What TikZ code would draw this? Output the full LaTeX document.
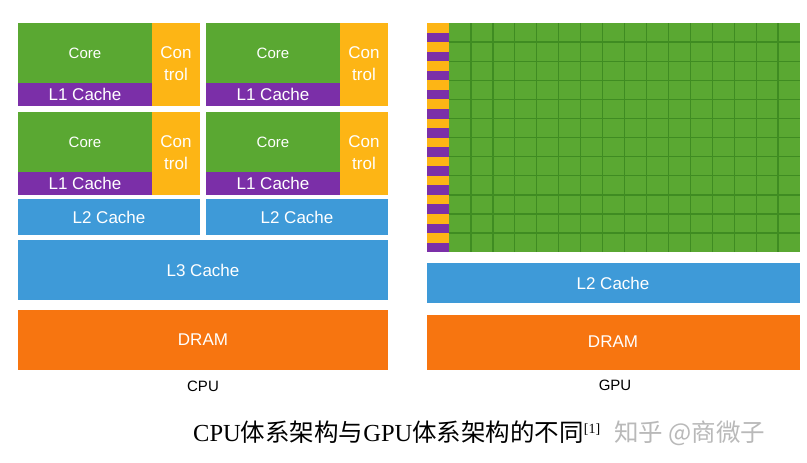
\documentclass[tikz,border=0pt]{standalone}
\usepackage{fontspec}
\setmainfont{Liberation Sans}
\newfontfamily\cjk{Noto Sans CJK SC}
\newfontfamily\serifcap{Liberation Serif}
\definecolor{gr}{HTML}{5AA832}
\definecolor{grl}{HTML}{3F8C22}
\definecolor{og}{HTML}{FDB515}
\definecolor{pu}{HTML}{7B2FA8}
\definecolor{bl}{HTML}{3E9AD8}
\definecolor{dr}{HTML}{F77510}
\begin{document}
\begin{tikzpicture}[x=1pt,y=-1pt,
  blk/.style={draw=none,inner sep=0pt,text=white,font=\fontsize{17}{20}\selectfont},
  lbl/.style={font=\fontsize{15}{18}\selectfont}]
\useasboundingbox (0,0) rectangle (807,463);
\fill[white] (0,0) rectangle (807,463);
\foreach \x/\y/\n in {18/23/a,206/23/b,18/112/c,206/112/d}{
  \fill[gr] (\x,\y) rectangle ++(134,60);
  \node[blk,font=\fontsize{15}{18}\selectfont] (core\n) at (\x+67,\y+30) {Core};
  \fill[pu] (\x,\y+60) rectangle ++(134,23);
  \node[blk] (l1\n) at (\x+67,\y+71.5) {L1 Cache};
  \fill[og] (\x+134,\y) rectangle ++(48,83);
  \node[blk,align=center,font=\fontsize{17}{22}\selectfont] (ctl\n) at (\x+158,\y+41) {Con\\trol};
}
\fill[bl] (18,199) rectangle (200,235); \node[blk] (l2a) at (109,217) {L2 Cache};
\fill[bl] (206,199) rectangle (388,235); \node[blk] (l2b) at (297,217) {L2 Cache};
\fill[bl] (18,240) rectangle (388,300); \node[blk] (l3) at (203,270) {L3 Cache};
\fill[dr] (18,310) rectangle (388,370); \node[blk] (dram1) at (203,340) {DRAM};
\node[lbl] (cpu) at (203,386) {CPU};
% GPU
\foreach \r in {0,...,11}{
  \fill[og] (427,23+\r*19.1) rectangle ++(22,9.55);
  \fill[pu] (427,32.55+\r*19.1) rectangle ++(22,9.55);
}
\fill[gr] (449,23) rectangle (800,252.2);
\foreach \c in {1,...,15} \draw[grl,line width=1.3pt] (449+\c*21.94,23) -- ++(0,229.2);
\foreach \r in {1,...,11} \draw[grl,line width=1.3pt] (449,23+\r*19.1) -- ++(351,0);
\fill[bl] (427,263) rectangle (800,303); \node[blk] (l2g) at (613,283) {L2 Cache};
\fill[dr] (427,315) rectangle (800,370); \node[blk] (dram2) at (613,342) {DRAM};
\node[lbl] (gpu) at (615,385) {GPU};
\node[anchor=west,inner sep=0pt,font=\fontsize{24.5}{28}\selectfont] (cap) at (193,433)
 {\serifcap CPU{\cjk 体系架构与}GPU{\cjk 体系架构的不同}\raisebox{0.7ex}{\fontsize{14}{16}\selectfont[1]}\hspace{14pt}{\cjk\color{gray!55}知乎 @商微子}};
\end{tikzpicture}
\end{document}
